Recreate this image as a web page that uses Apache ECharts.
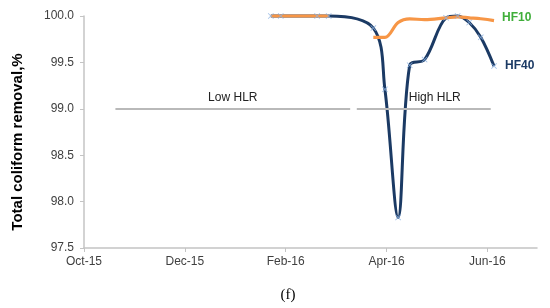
<!DOCTYPE html>
<html>
<head>
<meta charset="utf-8">
<script src="https://cdn.jsdelivr.net/npm/echarts@6/dist/echarts.min.js"></script>
<style>
html,body{margin:0;padding:0;background:#fff;}
#chart{width:550px;height:308px;}
</style>
</head>
<body>
<div id="chart"></div>
<script>
// ---- data ----
const originDate = '2015-10-01';
const xTickLabels = ['Oct-15', 'Dec-15', 'Feb-16', 'Apr-16', 'Jun-16'];
const xTickStepDays = 61;
const xMaxDays = 274;
const yTickLabels = ['97.5', '98.0', '98.5', '99.0', '99.5', '100.0'];

const sampleDates = ['2016-01-22', '2016-01-28', '2016-02-19', '2016-02-26', '2016-03-10', '2016-03-24', '2016-03-31',
  '2016-04-08', '2016-04-15', '2016-04-24', '2016-05-07', '2016-05-14', '2016-05-21', '2016-05-28', '2016-06-05'];
const hf40 = [100.0, 100.0, 100.0, 100.0, null, 99.87, 99.21, 97.83, 99.47, 99.53, 99.98, 100.0, 99.93, 99.77, 99.46];
const hf10 = [100.0, 100.0, 100.0, 100.0, null, 99.77, 99.77, 99.93, 99.97, 99.96, 99.98, 99.99, 99.98, 99.97, 99.95];

const hlrNames = ['Low HLR', 'High HLR'];
const hlrStart = ['2015-10-20', '2016-03-14'];
const hlrEnd = ['2016-03-10', '2016-06-03'];
const hlrLevel = 99.0;

// ---- helpers ----
function dayOf(s) { return (Date.parse(s) - Date.parse(originDate)) / 86400000; }
const xDays = sampleDates.map(dayOf);
const pairs = vals => vals.map((v, i) => [xDays[i], v]);
const lastPair = vals => pairs(vals).filter(p => p[1] !== null).pop();
const xTickValues = xTickLabels.map((_, i) => i * xTickStepDays);
const yNums = yTickLabels.map(Number);

const xMark = 'path://M0,1L1,0L5,4L9,0L10,1L6,5L10,9L9,10L5,6L1,10L0,9L4,5Z';
const axisGrey = '#c4c4c4';
const labelCol = '#404040';

function endMark(vals, name, color, dist, dy) {
  return {
    silent: true, animation: false, symbol: 'circle', symbolSize: 0,
    data: [{coord: lastPair(vals), value: name,
      label: {show: true, position: 'right', distance: dist, offset: [0, dy], formatter: name, color: color,
        fontWeight: 'bold', fontSize: 12, fontFamily: 'Liberation Sans, Arial'}}]
  };
}

const chart = echarts.init(document.getElementById('chart'), null, {renderer: 'canvas'});
chart.setOption({
  animation: false,
  backgroundColor: '#fff',
  grid: {left: 84, right: 13, top: 16, bottom: 60},
  xAxis: {
    type: 'value', min: 0, max: xMaxDays,
    splitLine: {show: false},
    axisLine: {show: true, lineStyle: {color: axisGrey, width: 1.5}},
    axisTick: {show: true, length: 4, lineStyle: {color: axisGrey}, customValues: xTickValues},
    axisLabel: {
      customValues: xTickValues, margin: 8, color: labelCol, fontSize: 12, fontFamily: 'Liberation Sans, Arial',
      formatter: v => xTickLabels[Math.round(v / xTickStepDays)] || ''
    }
  },
  yAxis: {
    type: 'value', min: yNums[0], max: yNums[yNums.length - 1], interval: 0.5,
    splitLine: {show: false},
    axisLine: {show: true, lineStyle: {color: axisGrey, width: 1.5}},
    axisTick: {show: true, length: 4, lineStyle: {color: axisGrey}},
    axisLabel: {
      margin: 10, color: labelCol, fontSize: 12, fontFamily: 'Liberation Sans, Arial',
      formatter: v => v.toFixed(1)
    }
  },
  graphic: [
    {type: 'text', x: 18, y: 142, rotation: Math.PI / 2,
      style: {text: 'Total coliform removal,%', font: 'bold 15px "Liberation Sans", Arial', fill: '#000',
        align: 'center', verticalAlign: 'middle'}},
    {type: 'text', x: 288, y: 295,
      style: {text: '(f)', font: '15px "Liberation Serif", "Times New Roman", serif', fill: '#000',
        align: 'center', verticalAlign: 'middle'}}
  ],
  series: [
    {
      name: 'HLR', type: 'line', data: [], z: 1, silent: true,
      markLine: {
        symbol: 'none', silent: true, animation: false,
        lineStyle: {color: '#b9b9b9', width: 2, type: 'solid'},
        label: {position: 'insideMiddleTop', distance: 5, color: '#222', fontSize: 12,
          fontFamily: 'Liberation Sans, Arial', formatter: p => p.name},
        data: hlrNames.map((n, i) => [
          {name: n, coord: [dayOf(hlrStart[i]), hlrLevel],
            label: i === 1 ? {padding: [0, 0, 0, 22]} : {}},
          {coord: [dayOf(hlrEnd[i]), hlrLevel]}
        ])
      }
    },
    {
      name: 'HF40', type: 'line', data: pairs(hf40), connectNulls: true, smooth: 0.35,
      showSymbol: false, z: 2, clip: false,
      lineStyle: {color: '#1b3a64', width: 3},
      itemStyle: {color: '#1b3a64'},
      markPoint: endMark(hf40, 'HF40', '#1b3a64', 11, 0)
    },
    {
      name: 'HF10', type: 'line', data: pairs(hf10), connectNulls: false, smooth: 0.35,
      showSymbol: false, z: 4, clip: false,
      lineStyle: {color: '#f79646', width: 3.2},
      itemStyle: {color: '#f79646'},
      markPoint: endMark(hf10, 'HF10', '#3fae3a', 8, -3)
    },
    {
      name: 'HF40 markers', type: 'scatter', z: 5, silent: true, clip: false,
      data: pairs(hf40).filter(p => p[1] !== null),
      symbol: xMark, symbolSize: 6,
      itemStyle: {color: '#8db3e2'}
    }
  ]
});
</script>
</body>
</html>
